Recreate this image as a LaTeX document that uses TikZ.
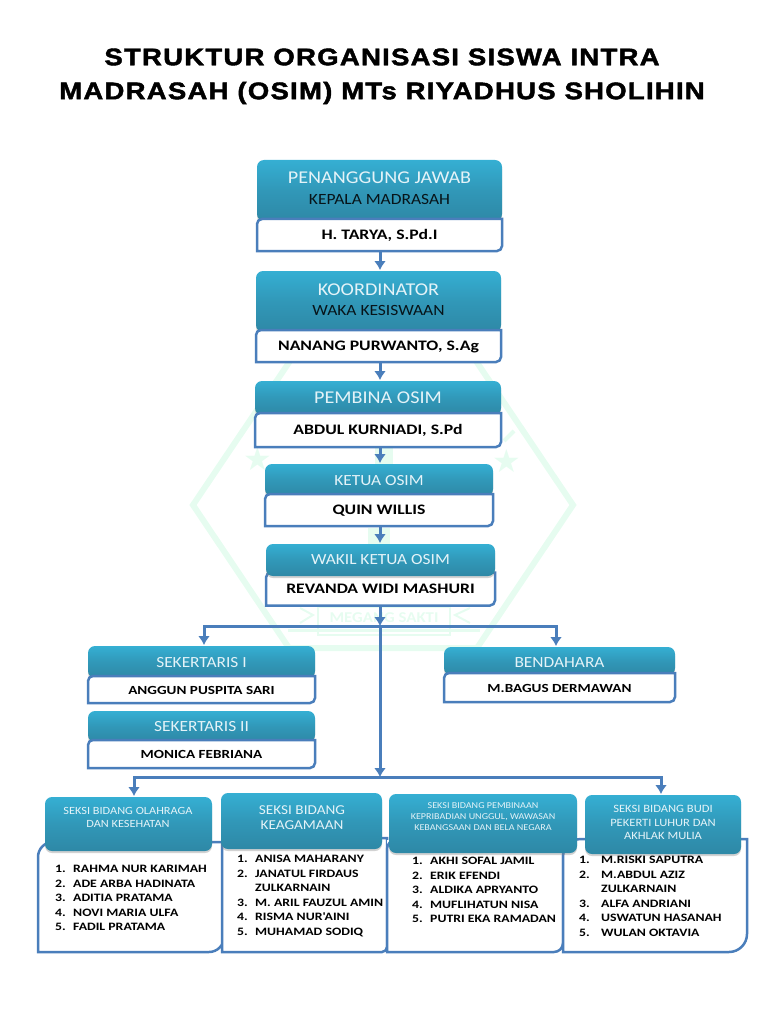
\documentclass[tikz,border=0pt]{standalone}
\usepackage{fontspec}
\setmainfont{Carlito}[FakeStretch=1.12]
\newfontfamily\namefont{Carlito}[FakeStretch=1.22]
\newfontfamily\titlefont{Liberation Sans}[FakeStretch=1.15,LetterSpace=5,FakeBold=1.8]
\newfontfamily\signfont{DejaVu Sans}
\usetikzlibrary{arrows.meta,shadows}

\definecolor{linkblue}{HTML}{4A7EBB}
\definecolor{tealtop}{HTML}{35AFD3}
\definecolor{tealbottom}{HTML}{2E88A6}
\definecolor{headtext}{HTML}{E4F3F8}
\definecolor{marksgreen}{HTML}{E6FCF0}

\tikzset{
  headbox/.style={shape=rectangle,rounded corners=7pt,top color=tealtop,bottom color=tealbottom,
    middle color=tealbottom!60!tealtop,inner sep=0pt,outer sep=1pt,
    drop shadow={shadow xshift=0pt,shadow yshift=-2pt,opacity=0.35}},
  headlabel/.style={text=headtext,align=center,inner sep=0pt},
  namebox/.style={shape=rectangle,fill=white,inner sep=0pt,outer sep=0pt,
    text height=9.4pt,text depth=0pt,
    font=\namefont\bfseries\fontsize{14.5}{16}\selectfont},
  listtext/.style={anchor=north west,inner sep=0pt,
    font=\namefont\bfseries\fontsize{11.3}{14.6}\selectfont},
  frameline/.style={draw=linkblue,line width=2.5pt},
  flowline/.style={draw=linkblue,line width=3pt,-{Latex[length=9pt,width=12pt]}},
  sign/.style={marksgreen,line width=6pt,line join=miter},
}
% diagonal frame: round top left and bottom right corners of a node
\newcommand{\diagframe}[2]{
  \draw[frameline] (#1.west) [rounded corners=#2] |- (#1.north) [sharp corners] -| (#1.east)
    [rounded corners=#2] |- (#1.south) [sharp corners] -| (#1.west);
}
% card = name box over a head box; name, x1, x2, y1, y2, y3, head text, name text, y of head text
\newcommand{\card}[9]{
  \node[headbox,minimum width=#3pt-#2pt,minimum height=#5pt-#4pt+2pt] (#1head)
    at ({(#2+#3)/2},{(#4+#5)/2+1}) {};
  \node[headlabel] (#1label) at ({(#2+#3)/2},#9) {#7};
  \node[namebox,minimum width=#3pt-#2pt,minimum height=#6pt-#5pt] (#1body)
    at ({(#2+#3)/2},{(#5+#6)/2}) {#8};
  \diagframe{#1body}{5pt}
}
\newcommand{\bigfont}{\fontsize{18}{20}\selectfont}
\newcommand{\midfont}{\fontsize{15.5}{18}\selectfont}
\newcommand{\subfont}{\fontsize{15.6}{18}\selectfont\color{black!85!tealbottom}}
\newcommand{\smallname}{\fontsize{12.4}{14}\selectfont}
\newcommand{\listrows}[1]{\begin{tabular}{@{}p{#1}@{}l@{}}}

\begin{document}
\begin{tikzpicture}[x=1pt,y=-1pt]
  \useasboundingbox (0,0) rectangle (768,1024);

  % Watermark
  \draw[sign] (193,505) -- (292,358) -- (474,358) -- (573,505) -- (477,648) -- (289,648) -- cycle;
  \draw[marksgreen,line width=2pt] (318,607) rectangle (450,635);
  \draw[marksgreen,line width=3pt] (288,630) -- (480,630);
  \draw[marksgreen,line width=2pt] (300,608) -- (313,615) -- (300,623);
  \draw[marksgreen,line width=2pt] (470,608) -- (455,615) -- (470,623);
  \draw[marksgreen,line width=4pt] (504,441) -- (514,431);
  \node[text=marksgreen,font=\bfseries\fontsize{15}{15}\selectfont] (motto) at (384,618) {MEGANG SAKTI};
  \node[text=marksgreen,font=\signfont\fontsize{32}{32}\selectfont] (starleft) at (258,459) {★};
  \node[text=marksgreen,font=\signfont\fontsize{32}{32}\selectfont] (starright) at (507,461) {★};
  \fill[marksgreen] (368,528) rectangle (390,546);
  \fill[marksgreen] (375,447) rectangle (393,464);

  % Title
  \node[font=\titlefont\bfseries\fontsize{24}{24}\selectfont] (titlea) at (382,57)
    {STRUKTUR ORGANISASI SISWA INTRA};
  \node[font=\titlefont\bfseries\fontsize{24}{24}\selectfont] (titleb) at (382,93)
    {MADRASAH (OSIM) MTs RIYADHUS SHOLIHIN};

  % Top cards
  \card{jawab}{257}{502}{160}{219}{251}{{\bigfont PENANGGUNG JAWAB}\\[9pt]{\subfont KEPALA MADRASAH}}{H. TARYA, S.Pd.I}{188.5}
  \card{koor}{256}{501}{271}{330}{362}{{\bigfont KOORDINATOR}\\[8pt]{\subfont WAKA KESISWAAN}}{NANANG PURWANTO, S.Ag}{299.5}
  \card{bina}{255}{501}{381}{413}{447}{\bigfont PEMBINA OSIM}{ABDUL KURNIADI, S.Pd}{397.5}
  \card{ketua}{265}{493}{464}{494}{526}{\midfont KETUA OSIM}{QUIN WILLIS}{480.5}

  % Wakil card has its head box over the frame
  \node[namebox,minimum width=229pt,minimum height=33pt] (wakilbody) at (380.5,589) {REVANDA WIDI MASHURI};
  \diagframe{wakilbody}{5pt}
  \node[headbox,minimum width=229pt,minimum height=32pt] (wakilhead) at (380.5,560) {};
  \node[headlabel] (wakillabel) at (380.5,560) {\midfont WAKIL KETUA OSIM};

  % Side cards
  \card{sekA}{88}{315}{646}{676}{703}{\midfont SEKERTARIS I}{\smallname ANGGUN PUSPITA SARI}{662.5}
  \card{sekB}{88}{315}{711}{740}{768}{\midfont SEKERTARIS II}{\smallname MONICA FEBRIANA}{726.5}
  \card{benda}{444}{675}{647}{673}{702}{\midfont BENDAHARA}{\smallname M.BAGUS DERMAWAN}{662.5}

  % Seksi bodies
  \node[namebox,minimum width=186pt,minimum height=110pt] (olahragabody) at (131,897) {};
  \diagframe{olahragabody}{15pt}
  \node[namebox,minimum width=165pt,minimum height=114pt] (agamabody) at (304.5,895) {};
  \diagframe{agamabody}{5pt}
  \node[namebox,minimum width=176pt,minimum height=112pt] (bangsabody) at (475,896) {};
  \diagframe{bangsabody}{9pt}
  \node[namebox,minimum width=184pt,minimum height=113pt] (budibody) at (655,895.5) {};
  \diagframe{budibody}{18pt}

  % Seksi heads
  \node[headbox,minimum width=167pt,minimum height=54pt] (olahragahead) at (128.5,824) {};
  \node[headbox,minimum width=161pt,minimum height=56pt] (agamahead) at (301.5,821) {};
  \node[headbox,minimum width=188pt,minimum height=59pt] (bangsahead) at (483,823.5) {};
  \node[headbox,minimum width=156pt,minimum height=59pt] (budihead) at (663,824.5) {};
  \node[headlabel,font=\fontsize{11}{13}\selectfont] (olahragalabel) at (128,817)
    {SEKSI BIDANG OLAHRAGA\\DAN KESEHATAN};
  \node[headlabel,font=\fontsize{13.6}{15.7}\selectfont] (agamalabel) at (302,817.5)
    {SEKSI BIDANG\\KEAGAMAAN};
  \node[headlabel,font=\fontsize{9}{11}\selectfont] (bangsalabel) at (483,817)
    {SEKSI BIDANG PEMBINAAN\\KEPRIBADIAN UNGGUL, WAWASAN\\KEBANGSAAN DAN BELA NEGARA};
  \node[headlabel,font=\fontsize{11.2}{13.6}\selectfont] (budilabel) at (663,822.5)
    {SEKSI BIDANG BUDI\\PEKERTI LUHUR DAN\\AKHLAK MULIA};

  % Seksi members
  \node[listtext] (olahragalist) at (55,862) {\listrows{18pt}
    1.&RAHMA NUR KARIMAH\\ 2.&ADE ARBA HADINATA\\ 3.&ADITIA PRATAMA\\ 4.&NOVI MARIA ULFA\\ 5.&FADIL PRATAMA\end{tabular}};
  \node[listtext] (agamalist) at (237,852) {\listrows{18pt}
    1.&ANISA MAHARANY\\ 2.&JANATUL FIRDAUS\\ &ZULKARNAIN\\ 3.&M. ARIL FAUZUL AMIN\\ 4.&RISMA NUR'AINI\\ 5.&MUHAMAD SODIQ\end{tabular}};
  \node[listtext] (bangsalist) at (412,854) {\listrows{18pt}
    1.&AKHI SOFAL JAMIL\\ 2.&ERIK EFENDI\\ 3.&ALDIKA APRYANTO\\ 4.&MUFLIHATUN NISA\\ 5.&PUTRI EKA RAMADAN\end{tabular}};
  \node[listtext] (budilist) at (579,853) {\listrows{22pt}
    1.&M.RISKI SAPUTRA\\ 2.&M.ABDUL AZIZ\\ &ZULKARNAIN\\ 3.&ALFA ANDRIANI\\ 4.&USWATUN HASANAH\\ 5.&WULAN OKTAVIA\end{tabular}};

  % connecting the cards
  \coordinate (spine) at (380,0);
  \coordinate (branch) at (380,626);
  \coordinate (bar) at (380,777);
  \foreach \from/\to in {jawab/koor,koor/bina,bina/ketua,ketua/wakil}
    \draw[flowline] (\from body.south -| spine) -- (\to head.north -| spine);
  \draw[flowline] (wakilbody.south -| spine) -- (branch);
  \draw[flowline] (branch) -- (bar);
  \draw[flowline] (branch) -| ([xshift=2.5pt]sekAhead.north);
  \draw[flowline] (branch) -| ([xshift=-3.5pt]bendahead.north);
  \draw[flowline] (bar) -| ([xshift=5.5pt]olahragahead.north);
  \draw[flowline] (bar) -| ([xshift=-2pt]budihead.north);
\end{tikzpicture}
\end{document}
